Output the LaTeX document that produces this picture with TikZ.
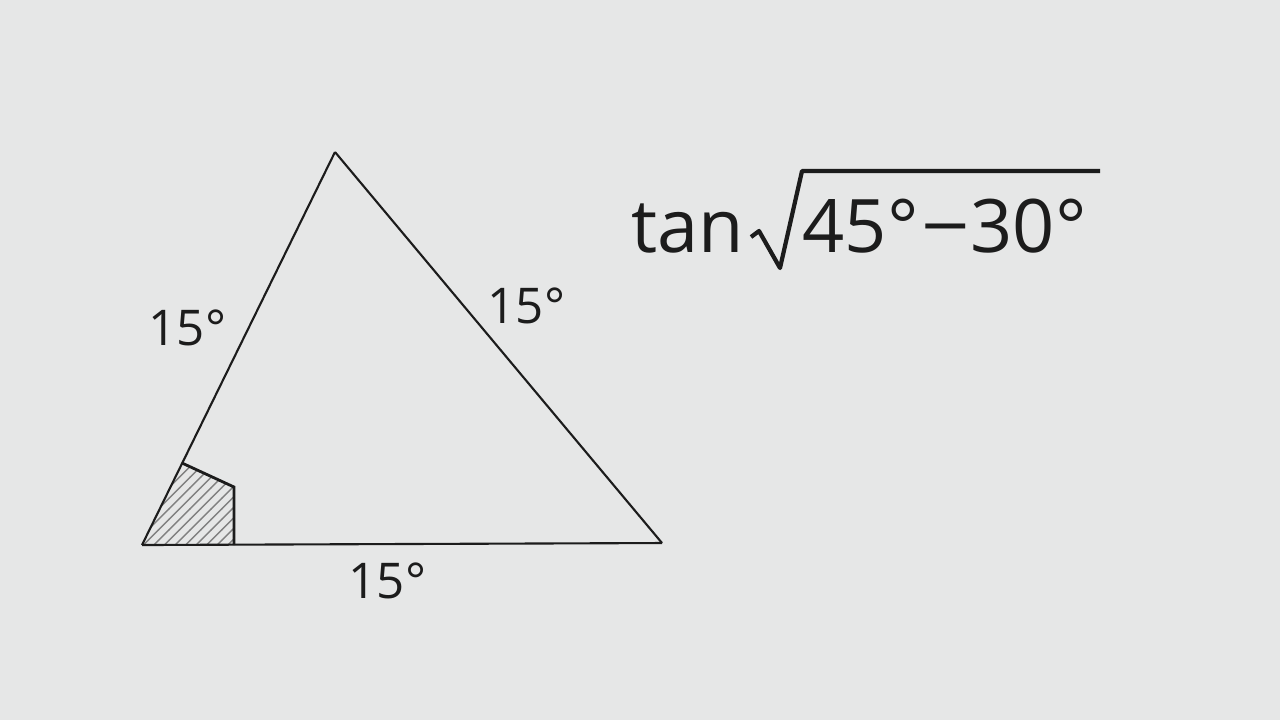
\documentclass[tikz,border=0pt]{standalone}
\usepackage{fontspec}
\setmainfont{Open Sans}
\usepackage{tikz}
\usetikzlibrary{patterns}
\definecolor{bgpaper}{HTML}{E6E7E7}
\definecolor{inkdark}{HTML}{1C1C1C}

\begin{document}
\begin{tikzpicture}[x=0.01cm,y=-0.01cm]
	
	\tikzset{side/.style={inkdark, line width=0.6pt},
		angletag/.style={inkdark, font=\fontsize{14}{16}\selectfont, inner sep=0pt},
		formula/.style={inkdark, font=\fontsize{21}{24}\selectfont, inner sep=0pt}}
	
	% paper
	\fill[bgpaper] (0,0) rectangle (1280,720);
	\useasboundingbox (0,0) rectangle (1280,720);
	
	% corners of the triangle
	\coordinate (A) at (142,545);
	\coordinate (B) at (335,152);
	\coordinate (C) at (662,543);
	
	% hatched corner
	\coordinate (P) at (182,463);
	\coordinate (Q) at (234,487);
	\coordinate (R) at (234,545);
	\fill[pattern=north east lines, pattern color=gray] (A) -- (P) -- (Q) -- (R) -- cycle;
	\draw[inkdark, line width=0.8pt] (P) -- (Q) -- (R);
	
	% sides
	\draw[side] (A) -- (B);
	\draw[side] (B) -- (C);
	\draw[side] (C) -- (A);
	
	% angle labels
	\node[angletag, anchor=base west] (left) at (148,345) {15°};
	\node[angletag, anchor=base west] (right) at (487,323) {15°};
	\node[angletag, anchor=base west] (bottom) at (348,598) {15°};
	
	% tan of the root
	\node[formula, anchor=base west] (tan) at (631,252) {tan};
	\draw[inkdark, line width=1.2pt, line join=round] (751,237) -- (759,231) -- (780,268) -- (802,171) -- (1100,171);
	\node[formula, anchor=base west] (first) at (802,252) {45°};
	\node[formula, anchor=base] (minus) at (946,252) {\scalebox{1.15}[1]{−}};
	\node[formula, anchor=base west] (second) at (970,252) {30°};
	
\end{tikzpicture}
\end{document}
